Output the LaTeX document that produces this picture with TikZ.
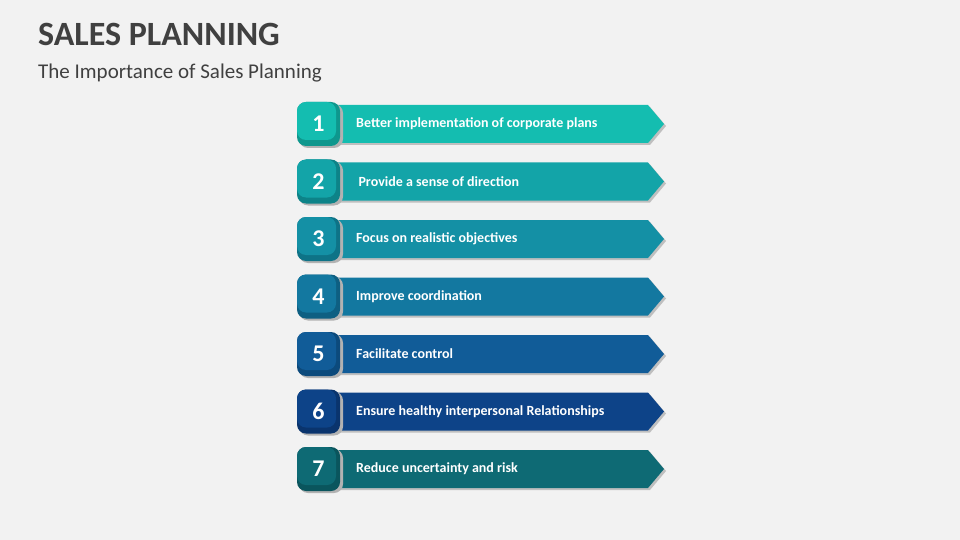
\documentclass[tikz,border=0pt]{standalone}
\usepackage{fontspec}
\setmainfont{Carlito}
\begin{document}
\begin{tikzpicture}[x=1pt,y=-1pt,
  txt/.style={anchor=west,text=white,font=\bfseries\fontsize{14}{16}\selectfont,inner sep=0},
  num/.style={text=white,font=\bfseries\fontsize{24}{26}\selectfont,inner sep=0}]
\fill[black!5] (0,0) rectangle (960,540);
\useasboundingbox (0,0) rectangle (960,540);
\node[anchor=west,text=black!75,font=\bfseries\fontsize{34}{38}\selectfont,inner sep=0] (title) at (38,34) {SALES PLANNING};
\node[anchor=west,text=black!75,font=\fontsize{21}{24}\selectfont,inner sep=0] (sub) at (38,73) {The Importance of Sales Planning};
\foreach \i/\c/\d/\t in {
 1/14BDB0/0E978D/Better implementation of corporate plans,
 2/13A4A8/0D8388/{\,Provide a sense of direction},
 3/1490A5/0E7387/Focus on realistic objectives,
 4/1378A0/0E5F82/Improve coordination,
 5/115C98/0C4A7C/Facilitate control,
 6/0D4388/0A346D/Ensure healthy interpersonal Relationships,
 7/0E6A74/0A555D/Reduce uncertainty and risk}{
 \definecolor{fc}{HTML}{\c}\definecolor{dc}{HTML}{\d}
 \pgfmathsetmacro\yy{124+57.5*(\i-1)}
 \fill[black!25] (332,\yy-17) -- (650,\yy-17) -- (666,\yy+2) -- (650,\yy+21) -- (332,\yy+21) -- cycle;
 \fill[fc] (330,\yy-19) -- (648,\yy-19) -- (664,\yy) -- (648,\yy+19) -- (330,\yy+19) -- cycle;
 \fill[black!30,rounded corners=9pt] (299,\yy-20) rectangle (343,\yy+24);
 \fill[dc,rounded corners=9pt] (297,\yy-22) rectangle (340,\yy+22);
 \fill[fc,rounded corners=9pt] (297,\yy-22) rectangle (336,\yy+16);
 \node[num] (n\i) at (318.5,\yy) {\i};
 \node[txt] (t\i) at (356,\yy) {\t};
}
\end{tikzpicture}
\end{document}
